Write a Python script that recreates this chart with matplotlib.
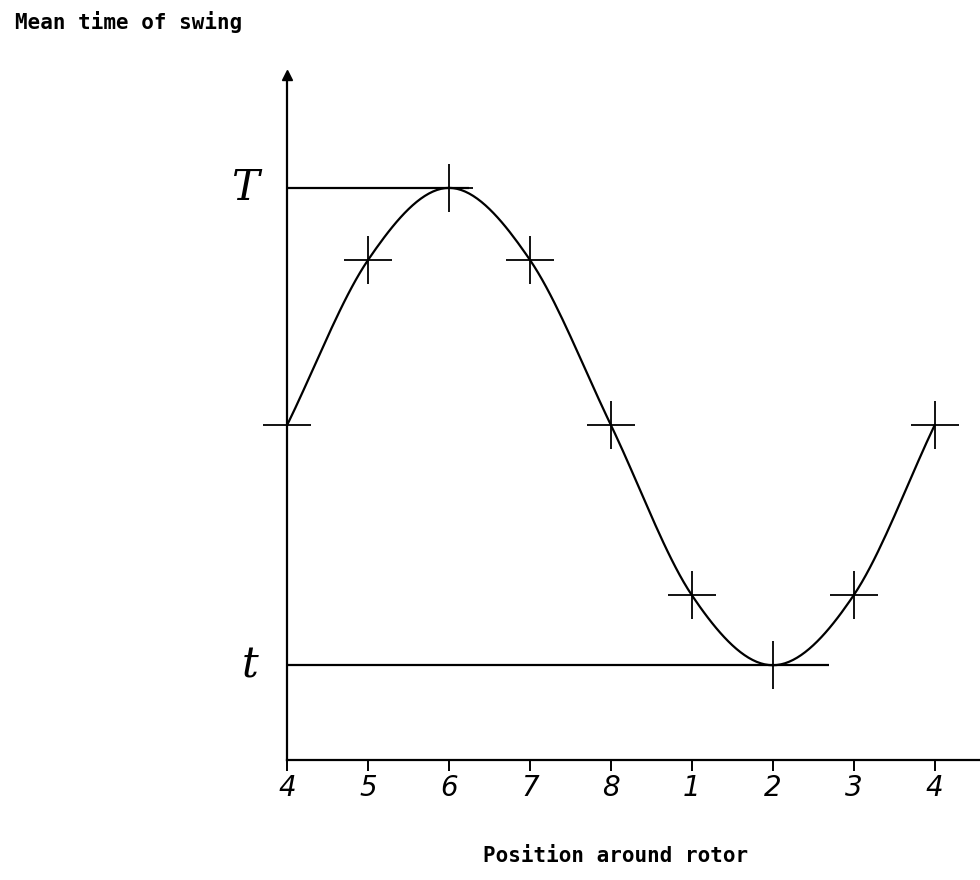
import numpy as np
import matplotlib.pyplot as plt

positions = [0, 1, 2, 3, 4, 5, 6, 7, 8]
tick_labels = ["4", "5", "6", "7", "8", "1", "2", "3", "4"]
swing_time = [335, 500, 572, 500, 335, 165, 95, 165, 335]
T_level = 572
t_level = 95


def smooth(x, y, n=20):
    # Catmull-Rom through the measured points, only for drawing the curve
    x = np.asarray(x, float)
    y = np.asarray(y, float)
    px = np.concatenate([[2 * x[0] - x[1]], x, [2 * x[-1] - x[-2]]])
    py = np.concatenate([[2 * y[0] - y[1]], y, [2 * y[-1] - y[-2]]])
    xs, ys = [], []
    s = np.linspace(0, 1, n, endpoint=False)
    for i in range(1, len(px) - 2):
        for arr, out in ((px, xs), (py, ys)):
            p0, p1, p2, p3 = arr[i - 1:i + 3]
            out.extend(0.5 * (2 * p1 + (-p0 + p2) * s + (2 * p0 - 5 * p1 + 4 * p2 - p3) * s ** 2
                              + (-p0 + 3 * p1 - 3 * p2 + p3) * s ** 3))
    xs.append(x[-1])
    ys.append(y[-1])
    return xs, ys


fig = plt.figure(figsize=(9.8, 8.8), dpi=100)
ax = fig.add_axes([0.293, 0.136, 0.707, 0.779])
ax.set_xlim(0, 8.56)
ax.set_ylim(0, 685)

cx, cy = smooth(positions, swing_time)
ax.plot(cx, cy, color="black", lw=1.6)
ax.plot(positions, swing_time, linestyle="none", marker="+", markersize=34,
        markeredgewidth=1.3, color="black", clip_on=False)

ax.hlines(T_level, 0, 2.25, color="black", lw=1.6)
ax.hlines(t_level, 0, 6.7, color="black", lw=1.6)
ax.text(-0.35, T_level, "T", fontsize=30, style="italic", ha="right", va="center",
        family="DejaVu Serif")
ax.text(-0.35, t_level, "t", fontsize=30, style="italic", ha="right", va="center",
        family="DejaVu Serif")

for side in ("top", "right"):
    ax.spines[side].set_visible(False)
ax.spines["left"].set_linewidth(1.6)
ax.spines["bottom"].set_linewidth(1.6)
ax.plot(0, 1, "^k", markersize=7, transform=ax.get_xaxis_transform(), clip_on=False)

ax.set_xticks(positions)
ax.set_xticklabels(tick_labels, fontsize=20, style="italic", family="DejaVu Sans")
ax.tick_params(axis="x", direction="out", length=8, width=1.4, pad=2)
ax.set_yticks([])

fig.text(0.015, 0.975, "Mean time of swing", fontsize=15, fontweight="bold",
         family="DejaVu Sans Mono", va="center")
fig.text(0.493, 0.027, "Position around rotor", fontsize=15, fontweight="bold",
         family="DejaVu Sans Mono", va="center")

fig.savefig("out.png", dpi=100)
